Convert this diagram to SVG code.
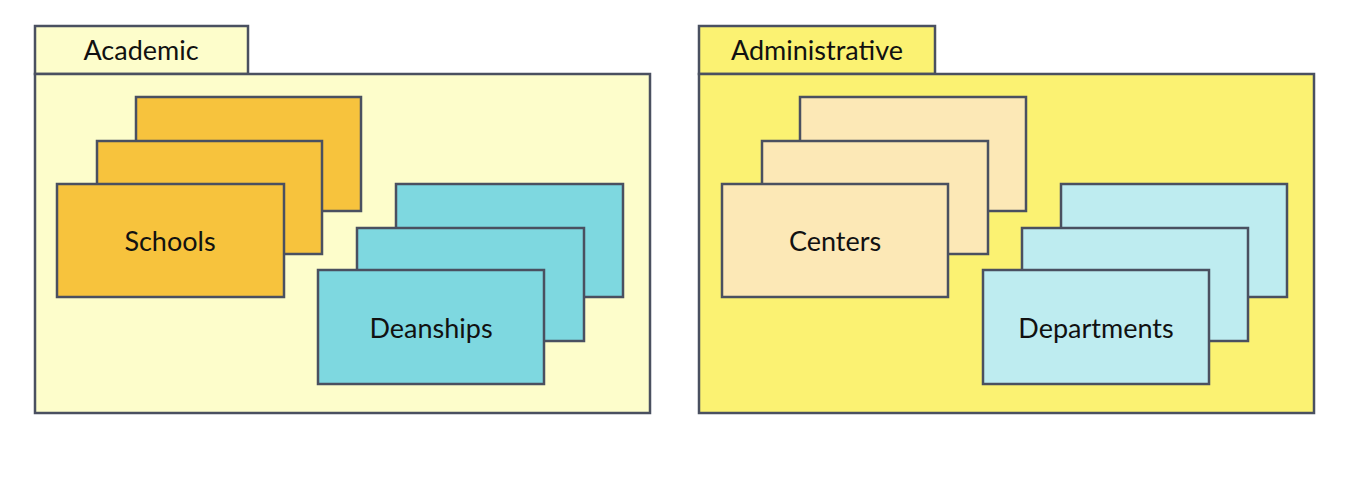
<svg xmlns="http://www.w3.org/2000/svg" width="1349" height="482" viewBox="0 0 1349 482">
<style>
rect{stroke:#4a5060;stroke-width:2.5}
text{font-family:Lato,"Open Sans",sans-serif;font-size:27px;fill:#111;text-anchor:middle}
.a{fill:#FDFDCB}.b{fill:#FBF272}.o{fill:#F7C33D}.t{fill:#7ED8E0}.p{fill:#FCE8B6}.c{fill:#BEECF0}
</style>
<rect width="1349" height="482" fill="#fff" style="stroke:none"/>
<g id="academic">
<rect class="a" x="35" y="26" width="213" height="48"/>
<rect class="a" x="35" y="74" width="615" height="339"/>
<text x="141" y="60">Academic</text>
</g>
<g id="schools">
<rect class="o" x="136" y="97" width="225" height="114"/>
<rect class="o" x="97" y="141" width="225" height="113"/>
<rect class="o" x="57" y="184" width="227" height="113"/>
<text x="170" y="251">Schools</text>
</g>
<g id="deanships">
<rect class="t" x="396" y="184" width="227" height="113"/>
<rect class="t" x="357" y="228" width="227" height="113"/>
<rect class="t" x="318" y="270" width="226" height="114"/>
<text x="431" y="338">Deanships</text>
</g>
<g id="administrative">
<rect class="b" x="699" y="26" width="236" height="48"/>
<rect class="b" x="699" y="74" width="615" height="339"/>
<text x="817" y="60">Administrative</text>
</g>
<g id="centers">
<rect class="p" x="800" y="97" width="226" height="114"/>
<rect class="p" x="762" y="141" width="226" height="113"/>
<rect class="p" x="722" y="184" width="226" height="113"/>
<text x="835" y="251">Centers</text>
</g>
<g id="departments">
<rect class="c" x="1061" y="184" width="226" height="113"/>
<rect class="c" x="1022" y="228" width="226" height="113"/>
<rect class="c" x="983" y="270" width="226" height="114"/>
<text x="1096" y="338">Departments</text>
</g>
<g id="connectors"/>
</svg>
